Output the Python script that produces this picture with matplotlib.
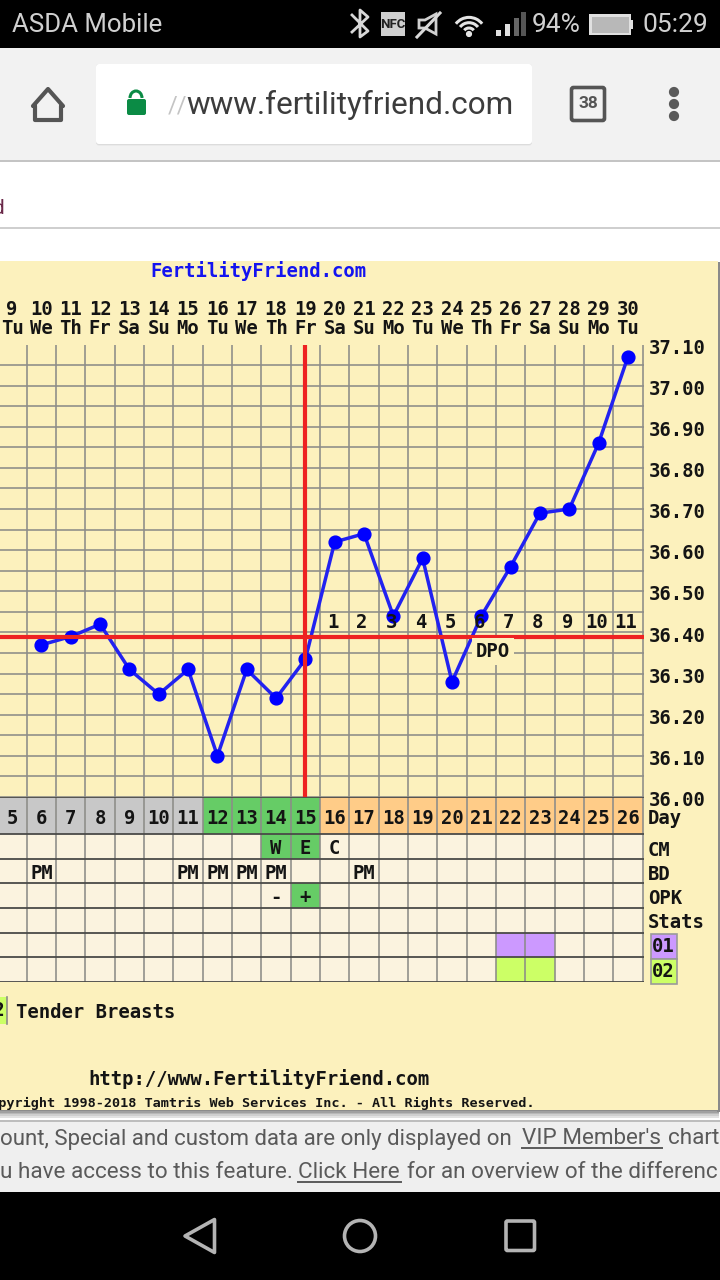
import numpy as np
import matplotlib
matplotlib.use("Agg")
import matplotlib.pyplot as plt
from matplotlib.patches import Rectangle, Polygon, Circle, FancyBboxPatch, Arc
from matplotlib.transforms import ScaledTranslation

# ---------- data ----------
dates = list(range(9, 31))
weekdays = ["Tu","We","Th","Fr","Sa","Su","Mo","Tu","We","Th","Fr","Sa","Su","Mo","Tu","We","Th","Fr","Sa","Su","Mo","Tu"]
cycle_days = list(range(5, 27))
temp_dates = list(range(10, 31))
temps = [36.37,36.39,36.42,36.31,36.25,36.31,36.10,36.31,36.24,36.335,36.62,36.64,36.44,36.58,36.28,36.44,36.56,36.69,36.70,36.86,37.07]
temp_ticks = [36.0,36.1,36.2,36.3,36.4,36.5,36.6,36.7,36.8,36.9,37.0,37.1]
coverline = 36.39
ovulation_date = 19
dpo_dates = list(range(20, 31))
dpo_labels = ["1","2","3","4","5","6","7","8","9","10","11"]
grey_days = [5,6,7,8,9,10,11]
green_days = [12,13,14,15]
orange_days = list(range(16, 27))
cm = {14:"W", 15:"E", 16:"C"}
bd = {6:"PM", 11:"PM", 12:"PM", 13:"PM", 14:"PM", 17:"PM"}
opk = {14:"-", 15:"+"}
stat1_days = [22, 23]
stat2_days = [22, 23]
row_labels = ["CM", "BD", "OPK", "Stats"]

# ---------- styles ----------
CHART = "#FCF1BD"; CELL = "#FBF3DF"; GRID = "#8C8C88"; DARK = "#4A4A48"
GREY = "#C8C8C8"; GREEN = "#66CC66"; ORANGE = "#FFCC88"; PURPLE = "#CC99FF"; LIME = "#CCFF66"
RED = "#EE2222"; BLUE = "#2222F0"; INK = "#141414"
MONO = dict(family="DejaVu Sans Mono", fontweight="bold", color=INK)
W, H = 720, 1280
fig = plt.figure(figsize=(7.2, 12.8), dpi=100, facecolor="white")

def px_axes(x0, y0, x1, y1, z):
    a = fig.add_axes([x0/W, 1-y1/H, (x1-x0)/W, (y1-y0)/H], zorder=z)
    return a

# ---------- screen chrome, in screen pixels ----------
bg = px_axes(0, 0, W, H, 0)
bg.set_xlim(0, W); bg.set_ylim(H, 0); bg.axis("off")
def rect(x0, y0, x1, y1, c, a=bg, **k):
    a.add_patch(Rectangle((x0, y0), x1-x0, y1-y0, facecolor=c, edgecolor="none", **k))
rect(0, 0, W, 48, "black")
rect(0, 48, W, 160, "#F2F2F2")
rect(0, 160, W, 162, "#C4C4C4")
rect(0, 227, W, 228.5, "#CFCFCF")
rect(0, 1120, W, 1192, "#EFEFEF")
rect(0, 1120, W, 1122, "#BDBDBD")
rect(0, 1192, W, H, "black")
# chart card with shadow
for i, c in enumerate(["#E2E2E2", "#CFCFCF", "#B8B8B8", "#A0A0A0", "#8C8C8C"]):
    rect(0, 1109, 719, 1118-i*1.8, c)
rect(717, 262, 720, 1112, "#8A8A8A")
rect(0, 261, 717.5, 1109.5, CHART)
# address box
for i, c in enumerate(["#E4E4E4", "#DADADA"]):
    bg.add_patch(FancyBboxPatch((96, 64), 436, 81.5-i*0.8, boxstyle="round,pad=0,rounding_size=3", fc=c, ec="none"))
bg.add_patch(FancyBboxPatch((96, 64), 436, 80, boxstyle="round,pad=0,rounding_size=3", fc="white", ec="none"))
# status text
RB = dict(family="Roboto")
bg.text(12, 25, "ASDA Mobile", fontsize=18.6, color="#D0D0D0", va="center", **RB)
bg.text(532, 25.5, "94%", fontsize=19, color="#D0D0D0", va="center", **RB)
bg.text(642, 25.5, "05:29", fontsize=19, color="#D0D0D0", va="center", **RB)
# bluetooth
bg.plot([352, 368, 360, 360, 368, 352], [15, 31, 37, 10, 17, 32], color="#D8D8D8", lw=2)
# NFC
rect(381, 12, 405, 36, "#CFCFCF")
bg.text(393, 24.5, "NFC", fontsize=9.5, color="#222222", ha="center", va="center", family="Roboto", fontweight="bold", stretch="condensed")
# muted speaker
bg.add_patch(Polygon([[419, 20], [425, 20], [436, 14], [436, 34], [425, 28], [419, 28]], closed=True, fill=False, ec="#D0D0D0", lw=2))
bg.plot([417, 440], [37, 13], color="#D8D8D8", lw=2.2)
# wifi
for r in [9, 17, 25]:
    bg.add_patch(Arc((469, 34), r*1.33, r*1.33, theta1=218, theta2=322, color="#E4E4E4", lw=2.2))
bg.add_patch(Circle((469, 34), 2.4, color="#E4E4E4"))
# signal bars
for x, top, c in [(496, 30, "#E0E0E0"), (505, 24, "#E0E0E0"), (514, 18, "#666666"), (521, 12, "#555555")]:
    rect(x, top, x+4.5, 36, c)
# battery
rect(589, 14, 631, 35, "#E0E0E0")
rect(591.5, 16.5, 628.5, 32.5, "#B8B8B8")
rect(631, 20, 633, 29, "#E0E0E0")
# home
bg.add_patch(Polygon([[48, 89], [33, 106], [35, 106], [35, 120], [61, 120], [61, 106], [63, 106]], closed=True, fill=False, ec="#555555", lw=3, joinstyle="round"))
# lock
bg.add_patch(FancyBboxPatch((127, 99), 19, 16, boxstyle="round,pad=0,rounding_size=2", fc="#0B8B45", ec="none"))
bg.add_patch(Arc((136, 98), 12, 14, theta1=180, theta2=360, color="#0B8B45", lw=2.2))
# url
bg.text(168, 105.5, "//", fontsize=17, color="#C4C4C4", va="center", **RB)
bg.text(186, 105.5, "www.fertilityfriend.com", fontsize=22.7, color="#3C3C3C", va="center", **RB)
# tab count and menu
bg.add_patch(FancyBboxPatch((571.5, 87.5), 33, 33, boxstyle="round,pad=0,rounding_size=2", fc="none", ec="#555555", lw=2.6))
bg.text(588, 104, "38", fontsize=12.5, color="#555555", ha="center", va="center", family="Roboto", fontweight="bold")
for y in [92, 104, 116]:
    bg.add_patch(Circle((674, y), 4.4, color="#5A5A5A"))
# clipped link text
bg.text(-7, 208, "d", fontsize=15, color="#6B2A4A", va="center", **RB)
# bottom notice
NOTE = dict(color="#5A5A5A", va="center", **RB)
bg.text(0, 1139, "ount, Special and custom data are only displayed on", fontsize=16, **NOTE)
bg.text(522, 1139, "VIP Member's", fontsize=16.2, **NOTE)
bg.text(668, 1139, "chart", fontsize=16.2, **NOTE)
bg.plot([522, 662], [1147.5, 1147.5], color="#5A5A5A", lw=1.4)
bg.text(0, 1173, "u have access to this feature.", fontsize=16.2, **NOTE)
bg.text(298, 1173, "Click Here", fontsize=16.2, **NOTE)
bg.text(407, 1173, "for an overview of the differenc", fontsize=16.2, **NOTE)
bg.plot([298, 401], [1181.5, 1181.5], color="#5A5A5A", lw=1.4)
# nav bar
bg.add_patch(Polygon([[214.5, 1219.5], [185, 1236], [214.5, 1252.5]], closed=True, fill=False, ec="#B4B4B4", lw=2.6, joinstyle="round"))
bg.add_patch(Circle((360, 1236), 15.5, fill=False, ec="#B4B4B4", lw=2.6))
bg.add_patch(FancyBboxPatch((506, 1221), 28.5, 29.5, boxstyle="round,pad=0,rounding_size=1.5", fc="none", ec="#B4B4B4", lw=2.6))
# chart texts outside axes
bg.text(150, 271, "FertilityFriend.com", fontsize=13.6, family="DejaVu Sans Mono", fontweight="bold", color="#1414F0", va="center")
bg.text(16, 1012, "Tender Breasts", fontsize=13.6, va="center", **MONO)
bg.text(88, 1079, "http://www.FertilityFriend.com", fontsize=13.6, va="center", **MONO)
bg.text(535, 1103, "Copyright 1998-2018 Tamtris Web Services Inc. - All Rights Reserved.", fontsize=9.7, ha="right", va="center", **MONO)
# legend key, cut by the left edge
rect(0, 997, 7, 1024, LIME)
bg.plot([7, 7], [997, 1024], color=GRID, lw=1.2)
bg.text(5.5, 1011, "02", fontsize=13.6, ha="right", va="center", **MONO)

# ---------- temperature chart ----------
SX0, SX1 = 0, 643.5
CX, CW = 41.5, 29.32
xl = (10 + (SX0-CX)/CW, 10 + (SX1-CX)/CW)
ax = px_axes(SX0, 344.5, SX1, 797, 2)
ax.patch.set_alpha(0)
for s in ax.spines.values():
    s.set_visible(False)
half = [d+0.5 for d in range(8, 31)]
ax.set_xticks(half, minor=True)
ax.set_xticks(dates)
ax.set_xticklabels([f"{d}\n{w}" for d, w in zip(dates, weekdays)], fontsize=13.6, linespacing=1.02, **MONO)
ax.xaxis.tick_top()
ax.tick_params(axis="x", which="both", length=0, pad=4.5)
ax.yaxis.tick_right()
ax.set_yticks(temp_ticks)
ax.set_yticklabels([f"{t:.2f}" for t in temp_ticks], fontsize=13.6, **MONO)
ax.set_yticks([36.0 + 0.05*k for k in range(23)], minor=True)
ax.tick_params(axis="y", which="both", length=0, pad=3.8)
ax.grid(True, axis="y", which="both", color=GRID, lw=1.15)
ax.grid(True, axis="x", which="minor", color=GRID, lw=1.15)
ax.grid(False, axis="x", which="major")
ax.set_axisbelow(True)
ax.yaxis.get_major_ticks()[-1].gridline.set_color("#D8D4BC")
ax.set_xlim(*xl); ax.set_ylim(36.0, 37.1)
shift = ScaledTranslation(0, -1.6/100, fig.dpi_scale_trans)
for lab in ax.get_yticklabels():
    lab.set_transform(lab.get_transform() + shift)
ax.plot(temp_dates, temps, color=BLUE, lw=2.5, marker="o", ms=9.2, mfc="#0000FF", mec="#0000FF", zorder=3, clip_on=False)
ax.axhline(coverline, color=RED, lw=3.0, zorder=4)
ax.axvline(ovulation_date, color=RED, lw=3.0, zorder=4)
for d, lab in zip(dpo_dates, dpo_labels):
    ax.text(d-0.07, 36.424, lab, fontsize=13.6, ha="center", va="center", zorder=6, **MONO)
ax.text(25.4, 36.353, "DPO", fontsize=13.6, ha="center", va="center", zorder=5,
        bbox=dict(facecolor=CHART, edgecolor="none", pad=3.0), **MONO)

# ---------- table ----------
RH = 24.55
DAYH = 37.3 / RH
tb = px_axes(SX0, 797, SX1, 981.7, 2)
tb.patch.set_alpha(0)
tb.set_xlim(*xl); tb.set_ylim(6, -DAYH)
tb.axis("off")
day_of = dict(zip(cycle_days, dates))
def cell(day, row, color, h=1):
    tb.bar(day_of[day], h, width=1, bottom=row, color=color, linewidth=0, zorder=1)
tb.add_patch(Rectangle((xl[0], 0), xl[1]-xl[0], 6, fc=CELL, ec="none", zorder=0))
for d in grey_days:   cell(d, -DAYH, GREY, DAYH)
for d in green_days:  cell(d, -DAYH, GREEN, DAYH)
for d in orange_days: cell(d, -DAYH, ORANGE, DAYH)
cell(14, 0, GREEN); cell(15, 0, GREEN); cell(15, 2, GREEN)
for d in stat1_days: cell(d, 4, PURPLE)
for d in stat2_days: cell(d, 5, LIME)
for h in half:
    tb.plot([h, h], [-DAYH, 6], color=GRID, lw=1.15, zorder=2)
for r in [-DAYH, 0, 1, 2, 3, 4, 5, 6]:
    tb.plot(xl, [r, r], color=DARK, lw=1.3, zorder=3)
tb.set_xlim(*xl); tb.set_ylim(6, -DAYH)
for d in cycle_days:
    tb.text(day_of[d], -DAYH/2+0.1, str(d), fontsize=13.6, ha="center", va="center", zorder=5, **MONO)
for row, items in [(0, cm), (1, bd), (2, opk)]:
    for d, t in items.items():
        tb.text(day_of[d], row+0.58, t, fontsize=13.6, ha="center", va="center", zorder=5, **MONO)

# row labels on the right, in screen pixels
bg.text(648, 819, "Day", fontsize=13.6, va="center", **MONO)
for lab, y in zip(row_labels, [850, 874, 899, 923]):
    bg.text(648, y, lab, fontsize=13.6, va="center", **MONO)
for y0, c, lab in [(934, PURPLE, "01"), (959, LIME, "02")]:
    bg.add_patch(Rectangle((650.5, y0), 26, 24.5, fc=c, ec="#9A9A9A", lw=1.2))
    bg.text(663.5, y0+12.5, lab, fontsize=13.6, ha="center", va="center", **MONO)

fig.savefig("out.png", dpi=100, facecolor="white")
